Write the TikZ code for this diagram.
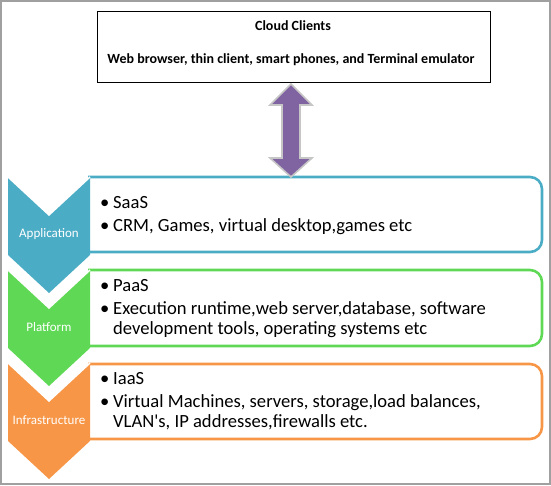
\documentclass[tikz,border=0pt]{standalone}
\usepackage{fontspec}
\setmainfont{Carlito}
\definecolor{cteal}{HTML}{4BACC6}
\definecolor{cgreen}{HTML}{5FD955}
\definecolor{corange}{HTML}{F79646}
\definecolor{cpurple}{HTML}{8064A2}
\definecolor{cframe}{HTML}{A0A0A0}
\begin{document}
\begin{tikzpicture}[x=1pt,y=-1pt,
  box/.style={line width=2.6pt, rounded corners=12pt},
  chev/.style={draw=white, line width=1.5pt},
  lbl/.style={text=white, font=\fontsize{13}{15}\selectfont},
  cctext/.style={font=\bfseries\fontsize{14}{16}\selectfont, inner sep=0pt},
  body/.style={anchor=north west, align=left, inner sep=0pt, font=\fontsize{18.6}{20}\selectfont}]
\useasboundingbox (0,0) rectangle (551,486);
\draw[cframe, line width=1.2pt] (1,1) rectangle (550,484);
% cloud clients
\node[draw=black, line width=0.8pt, minimum width=393pt, minimum height=71pt, inner sep=0pt] (cc) at (293.5,46.5) {};
\node[cctext] (cct) at (293,26) {Cloud Clients};
\node[cctext] (ccs) at (291,60) {Web browser, thin client, smart phones, and Terminal emulator};
% boxes
\draw[box,cteal] (88,177) -- (542,177) -- (542,252) -- (88,252);
\draw[box,cgreen] (88,270) -- (542,270) -- (542,346) -- (88,346);
\draw[box,corange] (88,364) -- (542,364) -- (542,439) -- (88,439);
% arrow
\draw[fill=cpurple, draw=gray!45, line width=1.6pt, line join=miter]
  (291,84) -- (312,105) -- (300,105) -- (300,158) -- (312,158) -- (291,177)
  -- (270,158) -- (282,158) -- (282,105) -- (270,105) -- cycle;
\node[inner sep=0pt] (arr) at (291,130) {};
% chevrons
\newcommand{\chevron}[2]{\fill[#1] (8,#2) -- (49,#2+38) -- (90,#2) -- (90,#2+78) -- (49,#2+116) -- (8,#2+78) -- cycle;
  \draw[chev] (8,#2) -- (49,#2+38) -- (90,#2);}
\chevron{cteal}{177}
\chevron{cgreen}{270}
\chevron{corange}{363}
\node[lbl] (lapp) at (49,234) {Application};
\node[lbl] (lplat) at (49,327) {Platform};
\node[lbl] (linf) at (49,420) {Infrastructure};
% texts
\newcommand{\bu}{\makebox[13pt][l]{\textbullet}}
\newcommand{\ind}{\hspace*{13pt}}
\node[body] (tapp) at (100,196) {\bu SaaS\\[3pt]\bu CRM, Games, virtual desktop,games etc};
\node[body] (tplat) at (100,279) {\bu PaaS\\[3pt]\bu Execution runtime,web server,database, software\\\ind development tools, operating systems etc};
\node[body] (tinf) at (100,372) {\bu IaaS\\[3pt]\bu Virtual Machines, servers, storage,load balances,\\\ind VLAN\textquotesingle s, IP addresses,firewalls etc.};
\end{tikzpicture}
\end{document}
